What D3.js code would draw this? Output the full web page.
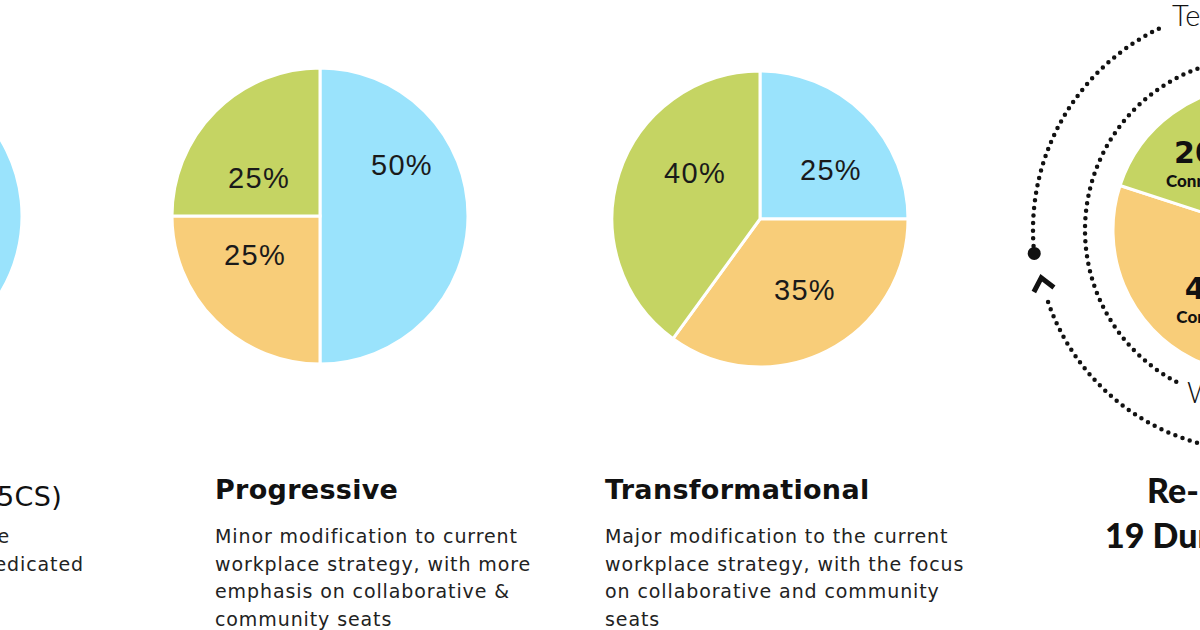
<!DOCTYPE html>
<html><head><meta charset="utf-8">
<script src="https://cdn.jsdelivr.net/npm/d3@7"></script>
<style>html,body{margin:0;padding:0;background:#fff;overflow:hidden}</style>
</head><body><svg id="chart" width="1200" height="630"></svg>
<script>
// ---------- data ----------
const scenarios = ["Conservative", "Progressive", "Transformational", "Re-Entry"];
const seatTypes = ["Dedicated", "Collaborative", "Community"];
const dedicatedShare = [70, 50, 25, 35];
const collaborativeShare = [15, 25, 35, 45];
const communityShare = [15, 25, 40, 20];
const reentryTags = ["Concentration", "Community", "Connection"];
const titleBold = ["Conservative", "Progressive", "Transformational"];
const titleRegular = [" (Current 5CS)", "", ""];
const descriptions = [
  ["Maintain the current workplace strategy with the", "majority of seats remaining as dedicated"],
  ["Minor modification to current", "workplace strategy, with more", "emphasis on collaborative &", "community seats"],
  ["Major modification to the current", "workplace strategy, with the focus", "on collaborative and community", "seats"]
];
const reentryTitle = ["Re-Entry Post COVID-", "19 During Recovery"];
const cycleLabels = ["Technology", "Wellbeing"];

// ---------- layout / style ----------
const colors = ["#9AE3FC", "#F8CD79", "#C5D463"];
const centers = [[-126, 216], [320, 216], [760, 219], [1257, 230]];
const radii = [148, 148, 148, 144];
// label offsets (baseline) relative to pie center, per pie, per slice [blue, orange, green]
const labelOffsets = {
  1: [[82, -41], [-65, 49], [-61, -28]],
  2: [[71, -39], [45, 81], [-65, -36]]
};
const textX = [null, 215, 605];
const textAnchorEnd = [62, 10, 84];
const seriesArr = [dedicatedShare, collaborativeShare, communityShare];
const bodyFont = "DejaVu Sans, Verdana, sans-serif";

const svg = d3.select("#chart");
const pie = d3.pie().sort(null).value(d => d.v).startAngle(0).endAngle(2 * Math.PI);

scenarios.forEach((s, i) => {
  const [cx, cy] = centers[i];
  const r = radii[i];
  const data = seatTypes.map((t, j) => ({ type: t, v: seriesArr[j][i], j }));
  const arcs = pie(data);
  const arc = d3.arc().innerRadius(0).outerRadius(r);
  const g = svg.append("g").attr("transform", `translate(${cx},${cy})`);
  g.selectAll("path").data(arcs).join("path")
    .attr("d", arc)
    .attr("fill", d => colors[d.data.j])
    .attr("stroke", "#fff").attr("stroke-width", 3).attr("stroke-linejoin", "miter");

  if (labelOffsets[i]) {
    g.selectAll("text.pct").data(arcs).join("text").attr("class", "pct")
      .attr("x", d => labelOffsets[i][d.data.j][0])
      .attr("y", d => labelOffsets[i][d.data.j][1])
      .attr("text-anchor", "middle")
      .attr("font-family", "Liberation Sans, Arial, sans-serif")
      .attr("font-size", 29).attr("letter-spacing", 1.3)
      .attr("fill", "#1a1a1a")
      .text(d => d.data.v + "%");
  }
  if (i === 3) {
    const labelArc = d3.arc().innerRadius(80).outerRadius(80);
    arcs.forEach(d => {
      const [x, y] = labelArc.centroid(d);
      g.append("text").attr("x", x).attr("y", y - 2).attr("text-anchor", "middle")
        .attr("font-family", bodyFont).attr("font-weight", 700)
        .attr("font-size", 30).attr("fill", "#111").text(d.data.v + "%");
      g.append("text").attr("x", x).attr("y", y + 22).attr("text-anchor", "middle")
        .attr("font-family", "Lato, sans-serif").attr("font-weight", 900)
        .attr("font-size", 17).attr("fill", "#111").text(reentryTags[d.data.j]);
    });
  }
});

// ---------- titles & descriptions ----------
titleBold.forEach((t, i) => {
  const anchorEnd = i === 0;
  const tx = anchorEnd ? textAnchorEnd[0] : textX[i];
  const title = svg.append("text")
    .attr("x", tx).attr("y", anchorEnd ? 506 : 499)
    .attr("text-anchor", anchorEnd ? "end" : "start")
    .attr("font-family", bodyFont).attr("font-size", 27).attr("letter-spacing", 0.3).attr("fill", "#111");
  title.append("tspan").attr("font-weight", 700).text(t);
  if (titleRegular[i]) title.append("tspan").attr("font-weight", 400).text(titleRegular[i]);

  descriptions[i].forEach((line, k) => {
    svg.append("text")
      .attr("x", anchorEnd ? textAnchorEnd[k + 1] : textX[i])
      .attr("y", 543 + k * 27.5)
      .attr("text-anchor", anchorEnd ? "end" : "start")
      .attr("font-family", bodyFont).attr("font-size", 19).attr("letter-spacing", 0.9)
      .attr("fill", "#222").text(line);
  });
});

reentryTitle.forEach((line, k) => {
  svg.append("text").attr("x", k === 0 ? 1147 : 1105).attr("y", k === 0 ? 503 : 548)
    .attr("font-family", "Lato, sans-serif").attr("font-weight", 900)
    .attr("font-size", 34).attr("fill", "#111").text(line);
});

// ---------- cycle (dotted arcs) ----------
const [rcx, rcy] = centers[3];
const rad = a => a * Math.PI / 180;
const pt = (r, a) => [rcx + r * Math.sin(rad(a)), rcy - r * Math.cos(rad(a))];
function dottedArc(r, a0, a1) {
  const p = d3.path();
  const s = pt(r, a0);
  p.moveTo(s[0], s[1]);
  p.arc(rcx, rcy, r, rad(a0 - 90), rad(a1 - 90), false);
  svg.append("path").attr("d", p.toString()).attr("fill", "none")
    .attr("stroke", "#111").attr("stroke-width", 4.5)
    .attr("stroke-linecap", "round").attr("stroke-dasharray", "0 7.6");
}
dottedArc(224, 264, 335);   // outer top arc
dottedArc(172, 208, 352);   // inner arc
dottedArc(221, 180, 252.5); // outer lower arc

// start dot
const dot = pt(224, 264);
svg.append("circle").attr("cx", dot[0]).attr("cy", dot[1]).attr("r", 6.5).attr("fill", "#111");

// arrowhead
const tipA = 257.5, tip = pt(221, tipA);
const tang = [Math.cos(rad(tipA)), Math.sin(rad(tipA))];
const back = [-tang[0], -tang[1]];
const rot = (v, d) => [v[0] * Math.cos(rad(d)) - v[1] * Math.sin(rad(d)), v[0] * Math.sin(rad(d)) + v[1] * Math.cos(rad(d))];
const w1 = rot(back, 40), w2 = rot(back, -40);
const L = 16;
svg.append("path")
  .attr("d", `M${tip[0] + w1[0] * L},${tip[1] + w1[1] * L}L${tip[0]},${tip[1]}L${tip[0] + w2[0] * L},${tip[1] + w2[1] * L}`)
  .attr("fill", "none").attr("stroke", "#111").attr("stroke-width", 5)
  .attr("stroke-linejoin", "miter").attr("stroke-linecap", "butt");

svg.append("text").attr("x", 1172).attr("y", 26).attr("font-family", "Lato, sans-serif")
  .attr("font-weight", 300).attr("font-size", 29).attr("fill", "#111").text(cycleLabels[0]);
svg.append("text").attr("x", 1187).attr("y", 403).attr("font-family", "Lato, sans-serif")
  .attr("font-weight", 300).attr("font-size", 29).attr("fill", "#111").text(cycleLabels[1]);
</script>
</body></html>
